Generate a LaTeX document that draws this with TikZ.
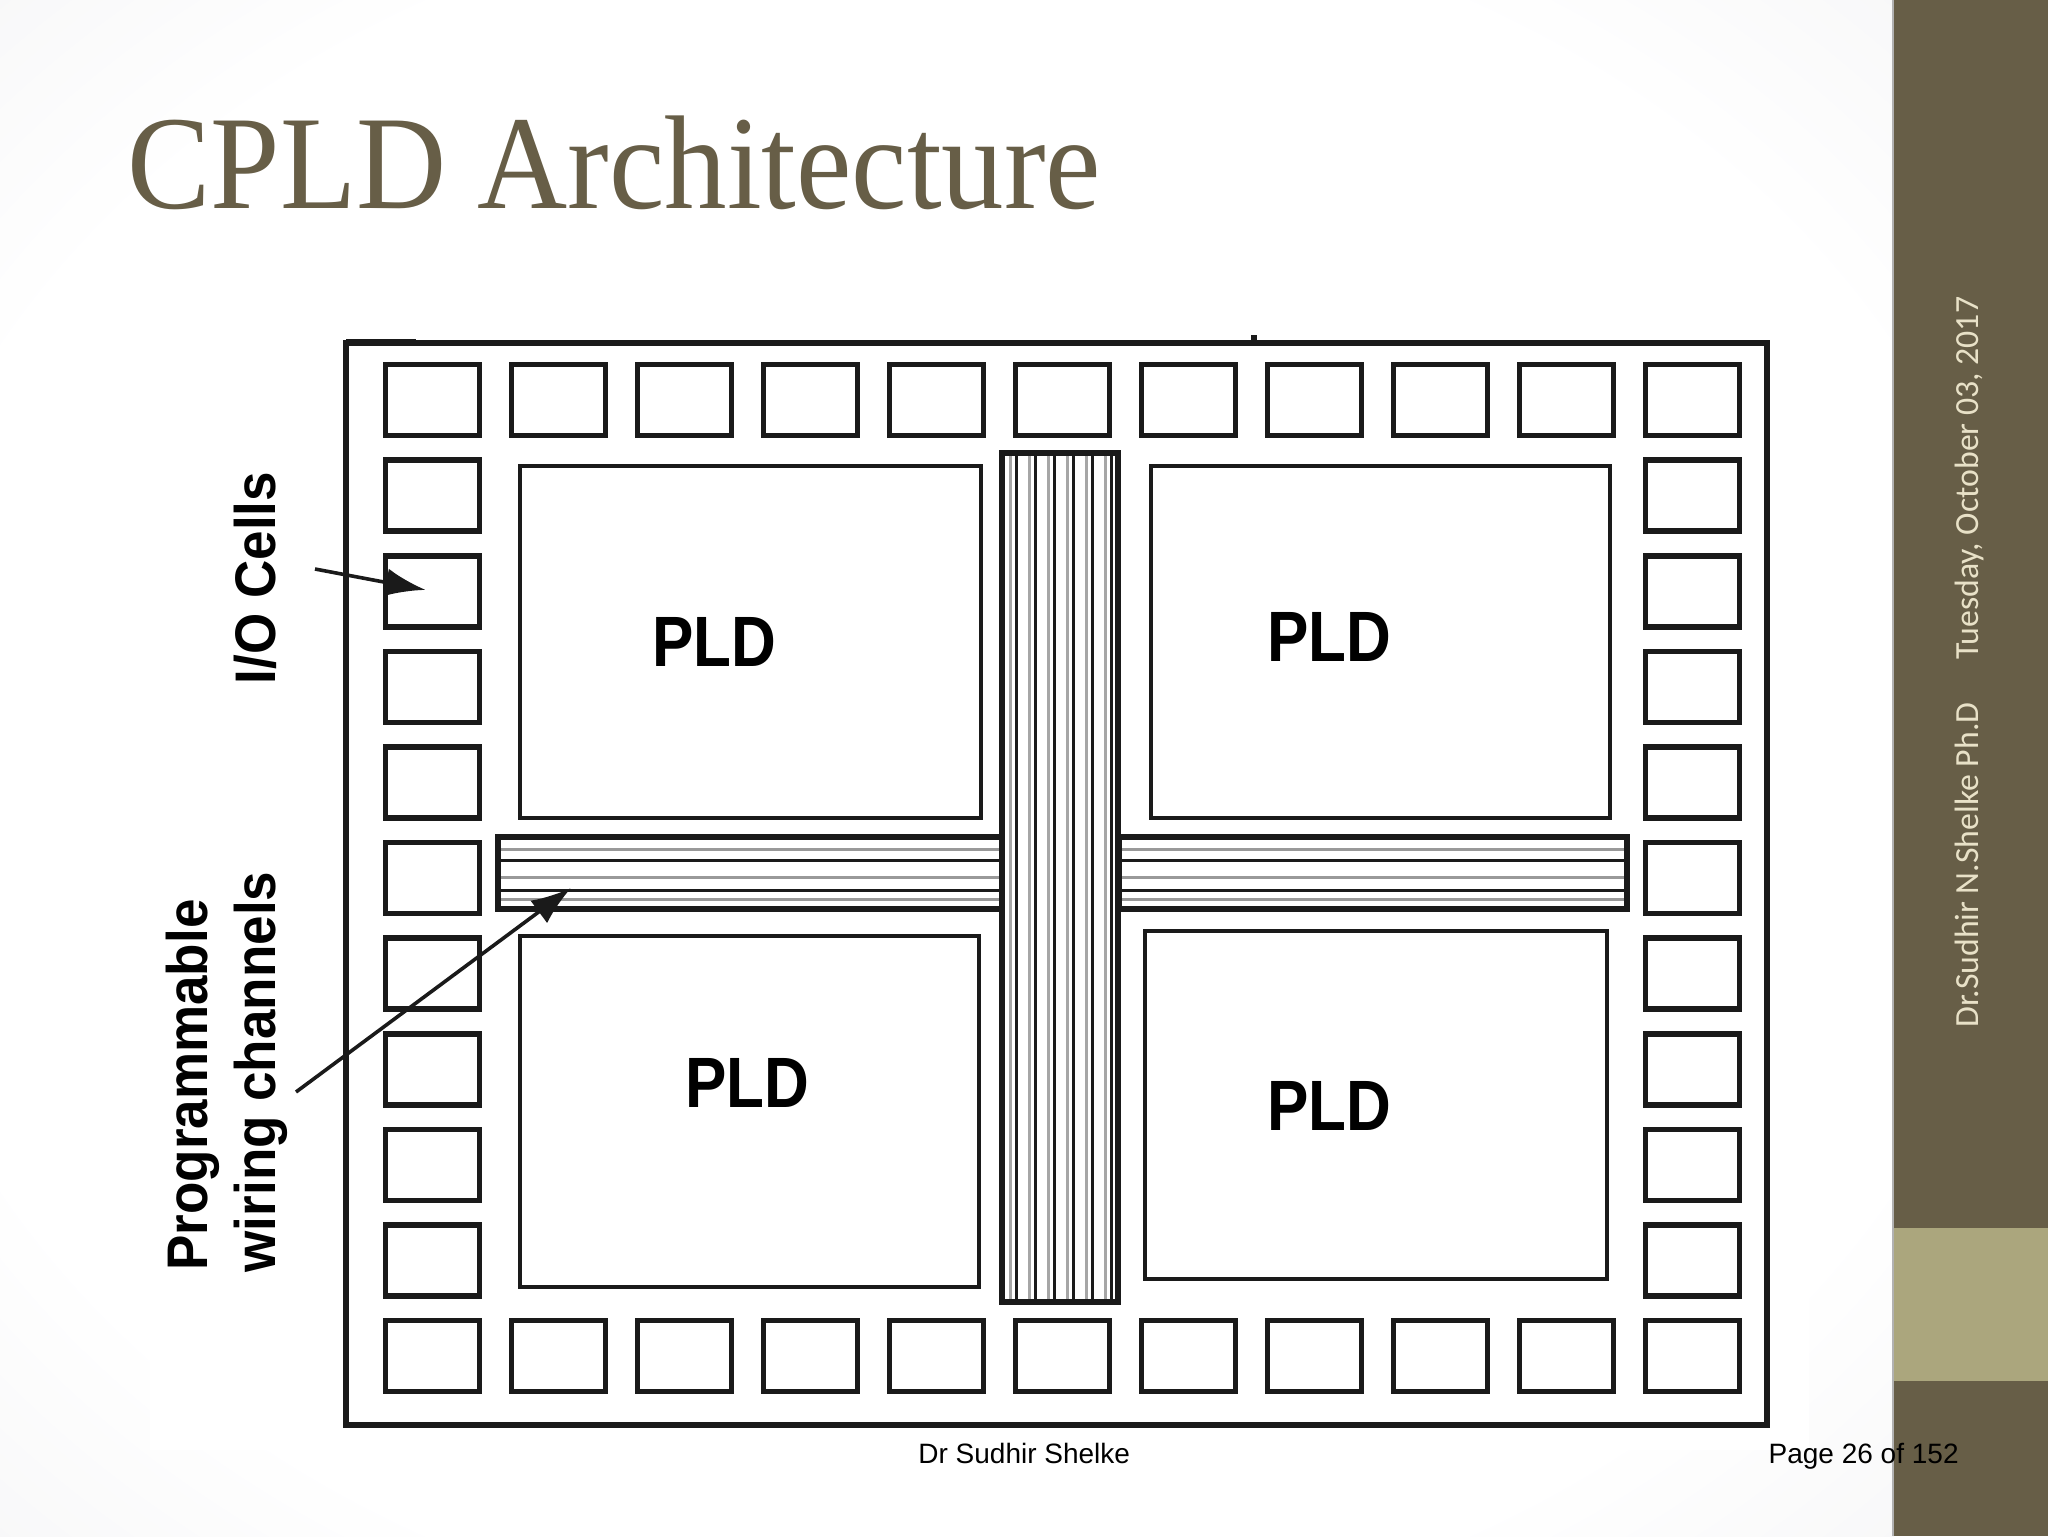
\documentclass[tikz,border=0pt]{standalone}
\usepackage{fontspec}
\usepackage{graphicx}
\usetikzlibrary{arrows.meta}
\setmainfont{Liberation Serif}
\newfontfamily\arialf{Liberation Sans}
\newfontfamily\carlitof{Carlito}
\definecolor{olive}{HTML}{675E47}
\definecolor{band}{HTML}{ABA67D}
\definecolor{cream}{HTML}{E8E1C7}
\definecolor{ink}{HTML}{1A1A1A}
\definecolor{bgA}{HTML}{EBEBED}
\definecolor{bgB}{HTML}{D9D9DB}
\pgfdeclareradialshading{slidebg}{\pgfpoint{0bp}{0bp}}{color(0bp)=(white); color(28bp)=(white); color(50bp)=(bgA); color(71bp)=(bgB)}
\tikzset{
  cell/.style={draw=ink, line width=2.8pt, fill=white, minimum width=47pt, minimum height=35.5pt, inner sep=0pt, outer sep=0pt},
  pldbox/.style={draw=ink, line width=2.2pt, fill=white, inner sep=0pt, outer sep=0pt},
  pldlabel/.style={inner sep=0pt, font=\arialf\bfseries\fontsize{31pt}{31pt}\selectfont},
  sidelabel/.style={inner sep=0pt, rotate=90, anchor=base, font=\arialf\bfseries\fontsize{26.5pt}{26.5pt}\selectfont},
  pointer/.style={draw=ink, line width=1.8pt, -{Latex[length=20pt,width=14pt]}},
  chanline/.style={line width=1.5pt},
  datetext/.style={rotate=90, anchor=base west, inner sep=0pt, text=cream, font=\carlitof\fontsize{16.9pt}{16.9pt}\selectfont},
}
\begin{document}
\begin{tikzpicture}[x=0.5pt,y=-0.5pt]
\useasboundingbox (0,0) rectangle (2048,1536);
% background
\shade[shading=slidebg] (0,0) rectangle (1894,1536);
\fill[white] (150,330) rectangle (1809,1450);
% sidebar
\fill[olive] (1894,0) rectangle (2048,1536);
\fill[band] (1894,1228) rectangle (2048,1381);
\draw[gray!60, line width=1pt] (1893,0) -- (1893,1536);
% title
\node[anchor=base west, inner sep=0pt, text=olive, font=\fontsize{62.4pt}{62.4pt}\selectfont] (title) at (127,208) {\scalebox{1}[1.07]{CPLD Architecture}};
% sidebar texts
\node[datetext] (author) at (1978,1028) {Dr.Sudhir N.Shelke Ph.D};
\node[datetext] (date) at (1978,660) {Tuesday, October 03, 2017};
% footer
\node[anchor=base west, inner sep=0pt, font=\arialf\fontsize{14pt}{14pt}\selectfont] (footl) at (918,1463) {Dr Sudhir Shelke};
\node[anchor=base east, inner sep=0pt, font=\arialf\fontsize{14pt}{14pt}\selectfont] (footr) at (1959,1463) {Page 26 of 152};
% outer frame
\draw[ink, line width=2.8pt] (346,343) rectangle (1767,1425);
\fill[ink] (346,339) rectangle (416,346);
\fill[ink] (1251,335) rectangle (1257,343);
% I/O cells
\foreach \c in {0,...,10} {
  \node[cell] (c-\c-0) at ({432.5+126*\c},400) {};
  \node[cell] (c-\c-10) at ({432.5+126*\c},{400+95.6*10}) {};
}
\foreach \r in {1,...,9} {
  \node[cell] (c-0-\r) at (432.5,{400+95.6*\r}) {};
  \node[cell] (c-10-\r) at (1692.5,{400+95.6*\r}) {};
}
% PLD blocks
\node[pldbox, minimum width=230.5pt, minimum height=176pt] (pldtl) at (750.5,642) {};
\node[pldbox, minimum width=229.5pt, minimum height=176pt] (pldtr) at (1380.5,642) {};
\node[pldbox, minimum width=229.5pt, minimum height=175.5pt] (pldbl) at (749.5,1111.5) {};
\node[pldbox, minimum width=231pt, minimum height=174pt] (pldbr) at (1376,1105) {};
\node[pldlabel] (ltl) at (714,642) {\scalebox{1}[1.15]{PLD}};
\node[pldlabel] (ltr) at (1329,637) {\scalebox{1}[1.15]{PLD}};
\node[pldlabel] (lbl) at (747,1083) {\scalebox{1}[1.15]{PLD}};
\node[pldlabel] (lbr) at (1329,1106) {\scalebox{1}[1.15]{PLD}};
% horizontal wiring channel
\foreach \xa/\xb in {498/1002, 1119/1627} {
  \fill[white] (\xa,837) rectangle (\xb,909);
  \foreach \yy in {849,877,899} { \draw[chanline, gray!80] (\xa,\yy) -- (\xb,\yy); }
  \foreach \yy in {860,890} { \draw[chanline, ink] (\xa,\yy) -- (\xb,\yy); }
  \draw[ink, line width=2.8pt] (\xa,837) rectangle (\xb,909);
}
\coordinate (hch) at (571,888);
% vertical wiring channel
\fill[white] (1002,453) rectangle (1118,1302);
\foreach \xx in {1016,1035,1054,1073,1092,1111} {
  \draw[chanline, gray!70] ({\xx-6},453) -- ({\xx-6},1302);
  \draw[chanline, ink] (\xx,453) -- (\xx,1302);
}
\draw[ink, line width=2.8pt] (1002,453) rectangle (1118,1302);
% labels
\node[sidelabel] (iolab) at (275,578) {\scalebox{1}[1.08]{I/O Cells}};
\node[sidelabel] (proglab) at (207,1085) {\scalebox{1}[1.08]{Programmable}};
\node[sidelabel] (wirelab) at (275,1072) {\scalebox{1}[1.08]{wiring channels}};
% pointers
\coordinate (io-start) at (315,569);
\coordinate (wire-start) at (296,1092);
\draw[pointer, shorten >=3.5pt] (io-start) -- (c-0-2.center);
\draw[pointer] (wire-start) -- (hch);
\end{tikzpicture}
\end{document}
